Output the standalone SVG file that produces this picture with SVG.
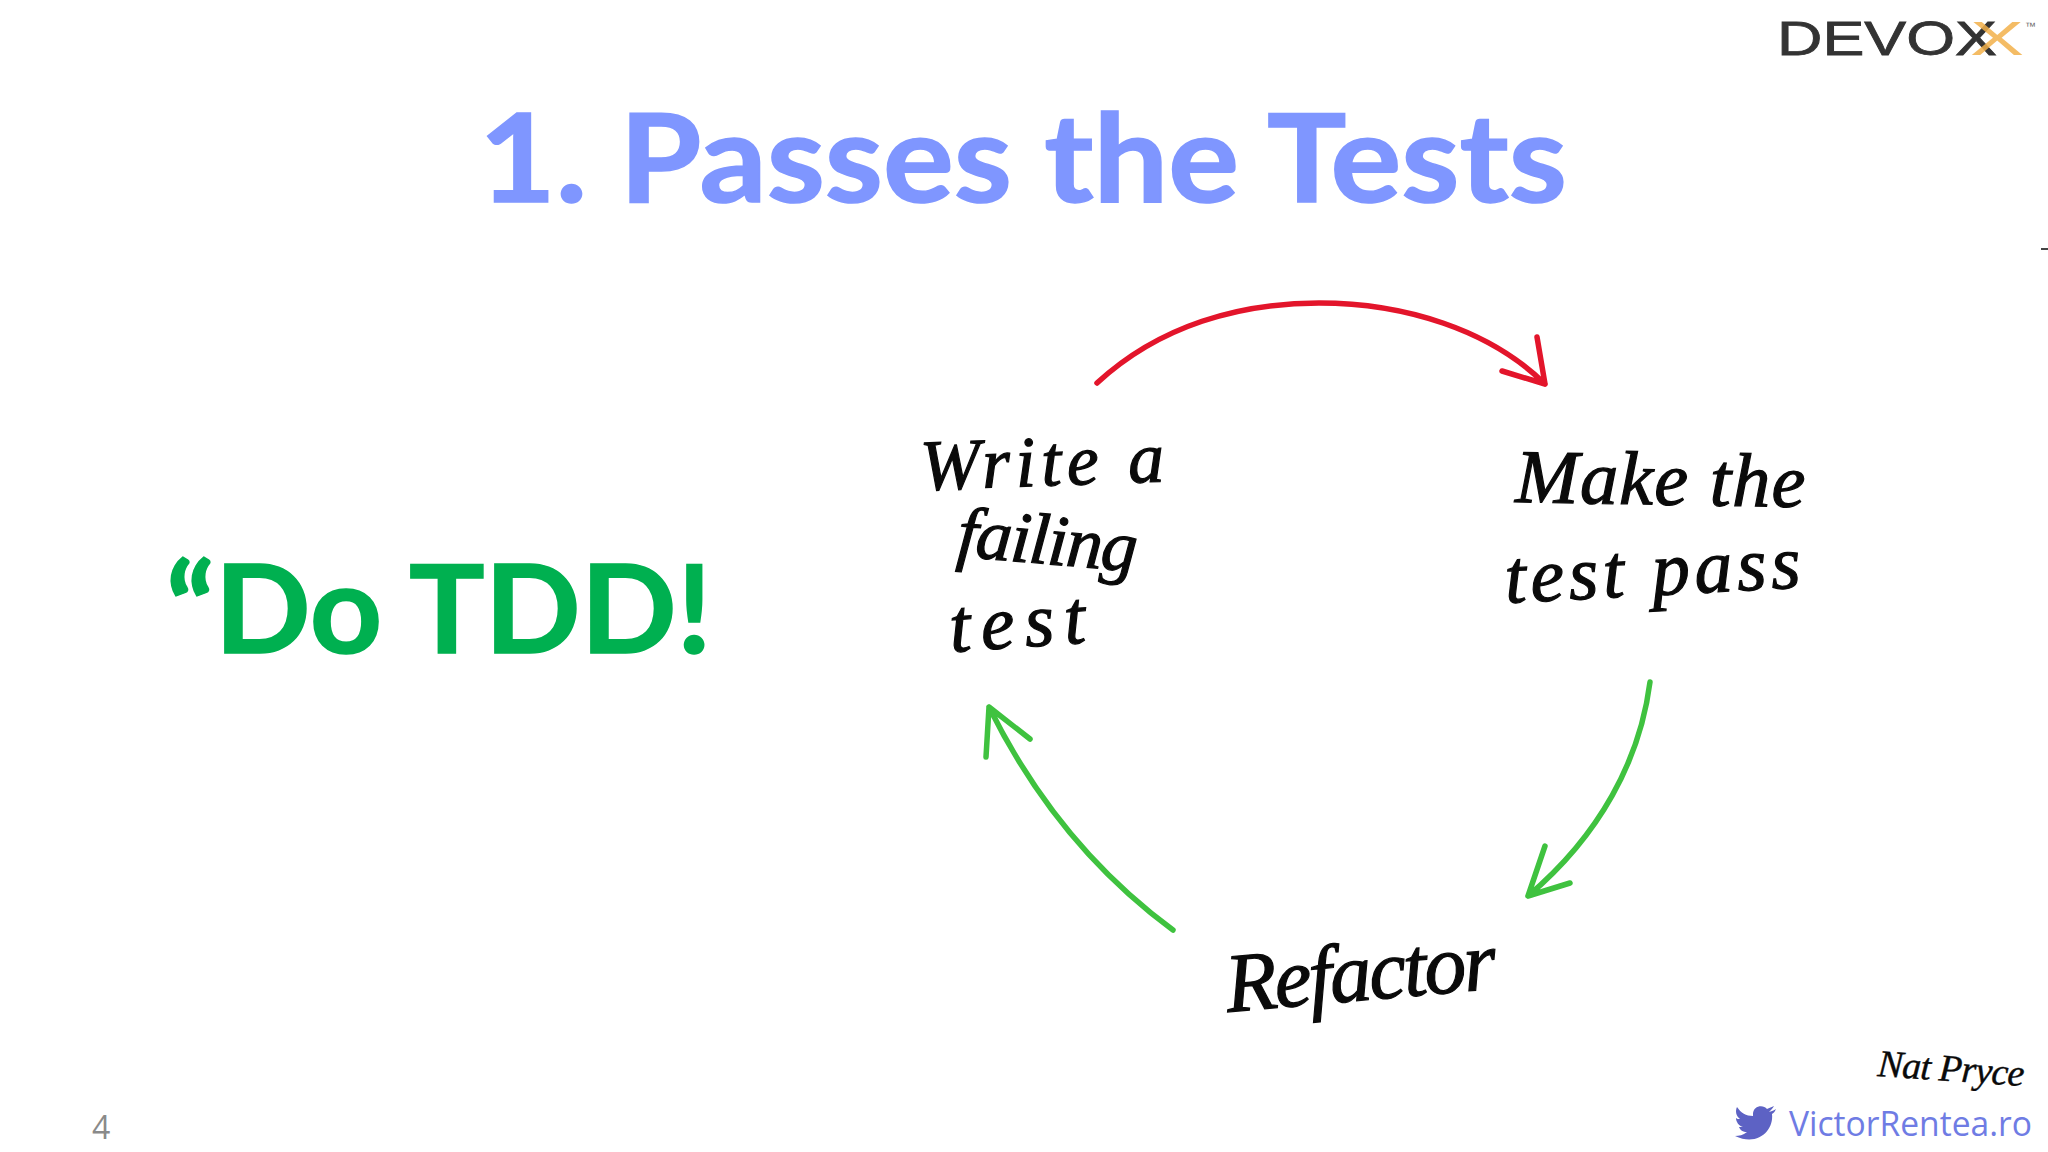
<svg xmlns="http://www.w3.org/2000/svg" width="2048" height="1152" viewBox="0 0 2048 1152">
<style>
.title{font-family:"Lato","Noto Sans",sans-serif;font-weight:700;stroke-width:1.5}
.hand{font-family:"Liberation Serif",serif;font-style:italic;fill:#0a0a0a;stroke:#0a0a0a;stroke-width:1.2}
.arc{fill:none;stroke-linecap:round;stroke-linejoin:round}
.red{stroke:#e3152b;stroke-width:5.5}
.green{stroke:#3fc23f;stroke-width:5.5}
.logo{font-family:"Liberation Sans",sans-serif;font-size:49px}
</style>
<rect width="2048" height="1152" fill="#ffffff"/>
<g id="logo">
<text class="logo" x="1777" y="55" textLength="220" lengthAdjust="spacingAndGlyphs" fill="#333333" stroke="#333333" stroke-width="0.8">DEVOX</text>
<text class="logo" x="1970" y="55" textLength="54" lengthAdjust="spacingAndGlyphs" fill="#f2b04a" fill-opacity="0.85">X</text>
<text x="2025" y="30" font-family="Liberation Sans,sans-serif" font-size="11" fill="#666666">™</text>
</g>
<text id="title" class="title" x="479" y="202" font-size="122" textLength="1088" lengthAdjust="spacingAndGlyphs" fill="#7f96ff" stroke="#7f96ff">1. Passes the Tests</text>
<text id="quote" class="title" x="166" y="653" font-size="122" textLength="546" lengthAdjust="spacingAndGlyphs" fill="#00b050" stroke="#00b050">“Do TDD!</text>
<rect id="edge-mark" x="2041" y="248" width="7" height="2" fill="#444444"/>
<g id="connectors">
<path id="red-arrow" class="arc red" d="M1097 383C1160 325 1240 303 1319 303C1405 303 1490 330 1545 384M1537 337L1545 384L1502 371"/>
<path id="green-right" class="arc green" d="M1650 682C1640 760 1600 835 1528 896M1545 846L1528 896L1570 883"/>
<path id="green-left" class="arc green" d="M1173 930C1105 880 1040 810 989 707M986 757L989 707L1030 739"/>
</g>
<g id="node-write">
<text class="hand" x="921" y="490" font-size="72" textLength="244" transform="rotate(-2 921 490)">Write a</text>
<text class="hand" x="956" y="556" font-size="72" textLength="180" transform="rotate(5 956 556)">failing</text>
<text class="hand" x="951" y="652" font-size="76" textLength="136" transform="rotate(-4 951 652)">test</text>
</g>
<g id="node-make">
<text class="hand" x="1515" y="502" font-size="76" textLength="290" transform="rotate(1 1515 502)">Make the</text>
<text class="hand" x="1506" y="603" font-size="76" textLength="296" transform="rotate(-3 1506 603)">test pass</text>
</g>
<g id="node-refactor">
<text class="hand" x="1228" y="1012" font-size="84" textLength="271" transform="rotate(-5 1228 1012)">Refactor</text>
</g>
<text id="credit" class="hand" style="stroke-width:.4" x="1877" y="1076" font-size="38" textLength="147" transform="rotate(4 1877 1076)">Nat Pryce</text>
<g id="footer">
<path id="bird" fill="#5d62c4" d="M1776 1109C1773 1111 1771 1111 1769 1112C1771 1110 1773 1108 1774 1106C1772 1107 1769 1108 1767 1109C1763 1104 1753 1106 1753 1114C1753 1115 1753 1116 1753 1116C1746 1116 1741 1113 1737 1107C1735 1111 1736 1116 1740 1119C1738 1119 1737 1119 1736 1118C1736 1122 1739 1126 1743 1127C1741 1127 1740 1127 1739 1127C1740 1130 1743 1132 1747 1132C1743 1135 1739 1136 1735 1136C1758 1147 1774 1130 1772 1114C1774 1113 1775 1111 1776 1109Z"/>
<text x="1789" y="1136" font-family="Open Sans,Noto Sans,sans-serif" font-size="34" textLength="243" lengthAdjust="spacingAndGlyphs" fill="#6f7ce4">VictorRentea.ro</text>
<text id="page" x="92" y="1139" font-family="Open Sans,Noto Sans,sans-serif" font-size="32" fill="#8a8a8a">4</text>
</g>
</svg>
